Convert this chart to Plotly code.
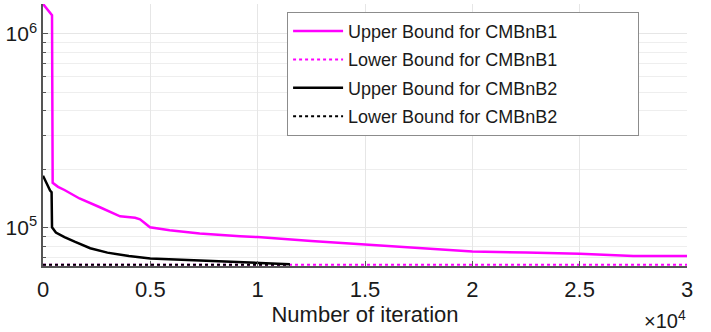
import plotly.graph_objects as go

# Upper bound for CMBnB1 (magenta solid)
ub1_x = [0, 420, 450, 700, 1000, 1700, 2650, 3590, 4290, 4520, 4750, 4980, 5900, 7300, 9180,
         10000, 12500, 15000, 17500, 20000, 22500, 25000, 27500, 30000]
ub1_y = [1.43e6, 1.25e6, 1.70e5, 1.62e5, 1.56e5, 1.41e5, 1.27e5, 1.14e5, 1.12e5, 1.10e5, 1.05e5, 1.00e5,
         9.65e4, 9.3e4, 9.0e4, 8.9e4, 8.5e4, 8.17e4, 7.85e4, 7.5e4, 7.4e4, 7.3e4, 7.1e4, 7.1e4]

# Lower bound for CMBnB1 (magenta dotted)
lb1_x = [0, 30000]
lb1_y = [6.4e4, 6.4e4]

# Upper bound for CMBnB2 (black solid)
ub2_x = [0, 200, 330, 400, 420, 600, 1000, 1500, 2200, 3000, 4000, 5000, 7000, 9000, 11500]
ub2_y = [1.85e5, 1.65e5, 1.55e5, 1.52e5, 1.0e5, 9.4e4, 8.9e4, 8.4e4, 7.8e4, 7.4e4, 7.1e4, 6.9e4,
         6.75e4, 6.65e4, 6.45e4]

# Lower bound for CMBnB2 (black dotted)
lb2_x = [0, 11500]
lb2_y = [6.4e4, 6.4e4]

x_tickvals = [0, 5000, 10000, 15000, 20000, 25000, 30000]
x_ticktext = ["0", "0.5", "1", "1.5", "2", "2.5", "3"]
y_tickvals = [1e5, 1e6]
y_ticktext = ["10<sup>5</sup>", "10<sup>6</sup>"]

names = ["Upper Bound for CMBnB1", "Lower Bound for CMBnB1",
         "Upper Bound for CMBnB2", "Lower Bound for CMBnB2"]
pad = "\u00a0" * 15

fig = go.Figure()
fig.add_trace(go.Scatter(x=ub1_x, y=ub1_y, mode="lines", name=names[0] + pad, legendgroup="a",
                         line=dict(color="#ff00ff", width=2.5)))
fig.add_trace(go.Scatter(x=lb1_x, y=lb1_y, mode="lines", name=names[1] + pad, legendgroup="b",
                         line=dict(color="#ff00ff", width=2, dash="dot")))
fig.add_trace(go.Scatter(x=ub2_x, y=ub2_y, mode="lines", name=names[2] + pad, legendgroup="c",
                         line=dict(color="#000000", width=2.5)))
fig.add_trace(go.Scatter(x=lb2_x, y=lb2_y, mode="lines", name=names[3] + pad, legendgroup="d",
                         line=dict(color="#000000", width=2, dash="dot")))

minor_vals = [m * 10 ** e for e in (4, 5) for m in range(2, 10)]

font_family = "Liberation Sans, Arial, Helvetica, sans-serif"

fig.update_layout(
    width=711, height=332,
    margin=dict(l=43, r=24, t=4, b=66, autoexpand=False),
    paper_bgcolor="white", plot_bgcolor="white",
    font=dict(family=font_family, size=19, color="#1a1a1a"),
    showlegend=True,
    legend=dict(x=0.379, y=0.97, xanchor="left", yanchor="top",
                bgcolor="white", bordercolor="#8c8c8c", borderwidth=1,
                font=dict(size=18, color="#1a1a1a"), traceorder="grouped",
                tracegroupgap=2, itemwidth=50),
    xaxis=dict(range=[0, 30000], tickvals=x_tickvals, ticktext=x_ticktext,
               showgrid=True, gridcolor="#e6e6e6", gridwidth=1,
               showline=True, linecolor="#555555", linewidth=1.5,
               ticks="inside", ticklen=5, tickcolor="#555555",
               zeroline=False, ticklabelstandoff=3, automargin=False,
               tickfont=dict(size=22),
               title=dict(text="Number of iteration", font=dict(size=22), standoff=2)),
    yaxis=dict(type="log", range=[4.8, 6.155], tickvals=y_tickvals, ticktext=y_ticktext,
               showgrid=True, gridcolor="#e6e6e6", gridwidth=1,
               showline=True, linecolor="#555555", linewidth=1.5,
               ticks="inside", ticklen=5, tickcolor="#555555",
               zeroline=False, automargin=False,
               tickfont=dict(size=21),
               minor=dict(tickvals=minor_vals, ticks="inside", ticklen=3, tickcolor="#555555",
                          showgrid=True, gridcolor="#eeeeee", gridwidth=1)),
)

fig.add_annotation(text="×10<sup>4</sup>", xref="paper", yref="paper", x=0.966, y=-0.205,
                   xanchor="center", yanchor="middle", showarrow=False,
                   font=dict(size=20, color="#1a1a1a"))

fig.write_html("out.html", config={"displayModeBar": False},
               post_script="document.body.style.margin='0';document.body.style.overflow='hidden';")
